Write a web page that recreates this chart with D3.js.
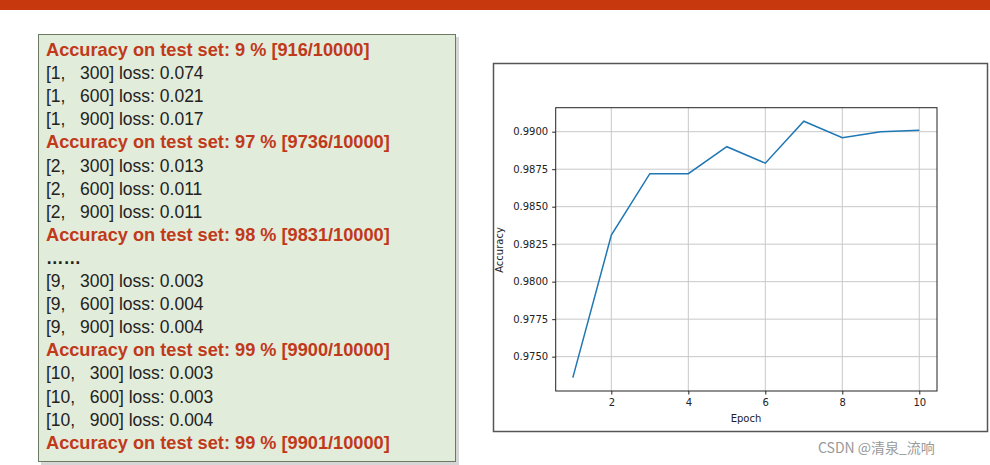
<!DOCTYPE html><html><head><meta charset="utf-8"><script src="https://cdn.jsdelivr.net/npm/d3@7"></script>
<style>body{margin:0;background:#fff}svg{display:block;font-family:"DejaVu Sans"}</style></head><body><svg id="c" width="990" height="465"></svg>
<script>
const epochs=[1,2,3,4,5,6,7,8,9,10];
const accuracy=[0.9736,0.9831,0.9872,0.9872,0.9890,0.9879,0.9907,0.9896,0.9900,0.9901];
const xTicks=[2,4,6,8,10];
const yTicks=[0.975,0.9775,0.98,0.9825,0.985,0.9875,0.99];
const logLines=[["Accuracy on test set: 9 % [916/10000]",1],["[1,   300] loss: 0.074",0],["[1,   600] loss: 0.021",0],["[1,   900] loss: 0.017",0],
["Accuracy on test set: 97 % [9736/10000]",1],["[2,   300] loss: 0.013",0],["[2,   600] loss: 0.011",0],["[2,   900] loss: 0.011",0],
["Accuracy on test set: 98 % [9831/10000]",1],["……",2],["[9,   300] loss: 0.003",0],["[9,   600] loss: 0.004",0],["[9,   900] loss: 0.004",0],
["Accuracy on test set: 99 % [9900/10000]",1],["[10,   300] loss: 0.003",0],["[10,   600] loss: 0.003",0],["[10,   900] loss: 0.004",0],["Accuracy on test set: 99 % [9901/10000]",1]];
const svg=d3.select("#c");
svg.append("rect").attr("x",0).attr("y",0).attr("width",990).attr("height",10).attr("fill","#c8380f");
svg.append("rect").attr("x",41).attr("y",37).attr("width",418).attr("height",428).attr("fill","#bbb").attr("opacity",0.6);
svg.append("rect").attr("x",38.5).attr("y",34.5).attr("width",417).attr("height",427).attr("fill","#e2ecda").attr("stroke","#6b7a63");
svg.selectAll("text.log").data(logLines).join("text").attr("class","log").attr("x",46).attr("y",(d,i)=>56+i*23.1)
 .attr("font-family","Liberation Sans, Arial").attr("font-size",d=>d[1]==1?18.2:17.5).attr("font-weight",d=>d[1]?"bold":"normal")
 .attr("fill",d=>d[1]==1?"#c0391b":"#222").attr("xml:space","preserve").style("white-space","pre").text(d=>d[0]);
svg.append("rect").attr("x",493.5).attr("y",63.5).attr("width",494).attr("height",368).attr("fill","#fff").attr("stroke","#555").attr("stroke-width",1.5);
const x=d3.scaleLinear().domain([0.555,10.46]).range([555.7,937]);
const y=d3.scaleLinear().domain([0.97271,0.9916]).range([391,107.7]);
const g=svg.append("g");
g.selectAll("line.vx").data(xTicks).join("line").attr("x1",d=>x(d)).attr("x2",d=>x(d)).attr("y1",107.7).attr("y2",391).attr("stroke","#c8c8c8");
g.selectAll("line.hy").data(yTicks).join("line").attr("y1",d=>y(d)).attr("y2",d=>y(d)).attr("x1",555.7).attr("x2",937).attr("stroke","#c8c8c8");
g.append("rect").attr("x",555.7).attr("y",107.7).attr("width",381.3).attr("height",283.3).attr("fill","none").attr("stroke","#222");
const xa=g.append("g").attr("transform","translate(0,391)").call(d3.axisBottom(x).tickValues(xTicks).tickSize(3.5).tickPadding(4));
const ya=g.append("g").attr("transform","translate(555.7,0)").call(d3.axisLeft(y).tickValues(yTicks).tickFormat(d3.format(".4f")).tickSize(3.5).tickPadding(4));
[xa,ya].forEach(a=>{a.select(".domain").remove();a.selectAll("text").attr("font-size",10).attr("font-family","DejaVu Sans").attr("fill","#222");a.selectAll("line").attr("stroke","#222");});
g.append("path").datum(epochs.map((e,i)=>[e,accuracy[i]])).attr("d",d3.line().x(d=>x(d[0])).y(d=>y(d[1]))).attr("fill","none").attr("stroke","#1f77b4").attr("stroke-width",1.5);
g.append("text").attr("x",746).attr("y",422).attr("text-anchor","middle").attr("font-size",10).attr("fill","#222").text("Epoch");
g.append("text").attr("transform","translate(503,250) rotate(-90)").attr("text-anchor","middle").attr("font-size",10).attr("fill","#222").text("Accuracy");
svg.append("text").attr("x",818).attr("y",453).attr("font-family","Noto Sans CJK SC").attr("font-size",14).attr("fill","#999").text("CSDN @清泉_流响");
</script></body></html>
